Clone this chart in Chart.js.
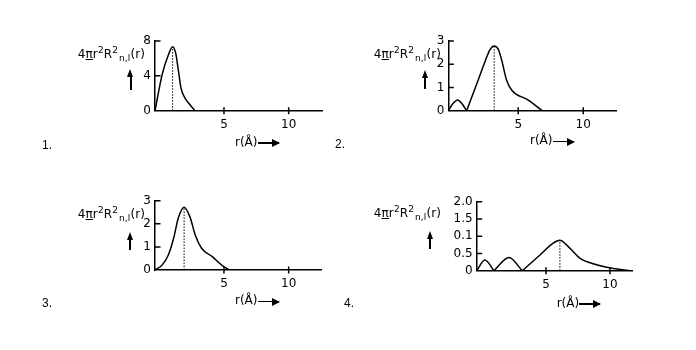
<!DOCTYPE html>
<html><head><meta charset="utf-8">
<script src="https://cdn.jsdelivr.net/npm/chart.js@4.4.0/dist/chart.umd.min.js"></script>
<style>
body{margin:0;background:#fff;}
#wrap{position:relative;width:696px;height:350px;overflow:hidden;background:#fff;}
canvas{position:absolute;left:0;top:0;}
.t{position:absolute;font-family:"DejaVu Sans",Verdana,sans-serif;color:#000;white-space:nowrap;}
.ylab{font-size:12px;line-height:14px;letter-spacing:0.1px;}
.ylab .sp{font-size:9px;position:relative;top:-5px;}
.ylab .sb{font-size:9px;position:relative;top:3px;margin-left:1px;}
.ylab u{text-decoration:underline;text-underline-offset:1px;}
.num{position:absolute;font-family:"Liberation Sans",Arial,sans-serif;font-size:12px;color:#000;line-height:14px;}
.up{position:absolute;width:7px;}
.up .h{width:0;height:0;border-left:3.5px solid transparent;border-right:3.5px solid transparent;border-bottom:8px solid #000;}
.up .s{width:2px;background:#000;margin-left:2.5px;}
.xlab{font-size:12px;line-height:14px;}
.ar{display:inline-block;position:relative;width:21px;height:1.5px;background:#000;vertical-align:middle;margin-left:0px;top:1px;}
.ar:after{content:"";position:absolute;right:-1px;top:-3.25px;border-top:4px solid transparent;border-bottom:4px solid transparent;border-left:8px solid #000;}
</style>
</head>
<body>
<div id="wrap">
  <canvas id="c1" width="696" height="350"></canvas>
  <canvas id="c2" width="696" height="350"></canvas>
  <canvas id="c3" width="696" height="350"></canvas>
  <canvas id="c4" width="696" height="350"></canvas>
</div>
<script>
// ---------- DATA ----------
const xTicks = [5, 10];
const xTickLabels = ['5', '10'];

// Panel 1
const r1 = [-0.33, 0.23, 0.7, 1.03, 1.27, 1.47, 1.68, 1.99, 2.37, 2.76];
const v1 = [0, 4.2, 6.4, 7.35, 6.6, 4.7, 2.6, 1.45, 0.69, 0];
const yTicks1 = [0, 4, 8];
const yLabels1 = ['0', '4', '8'];

// Panel 2
const r2 = [-0.38, 0, 0.34, 0.69, 1.03, 1.92, 2.44, 2.82, 3.15, 3.46, 3.72, 4.1, 4.49, 5.77, 6.85];
const v2 = [0, 0.32, 0.46, 0.29, 0, 1.32, 2.11, 2.62, 2.79, 2.65, 2.19, 1.32, 0.89, 0.46, 0];
const yTicks2 = [0, 1, 2, 3];
const yLabels2 = ['0', '1', '2', '3'];

// Panel 3
const r3 = [-0.33, 0.2, 0.7, 1.1, 1.47, 1.92, 2.37, 2.8, 3.27, 4.1, 4.9, 5.42];
const v3 = [0, 0.2, 0.65, 1.35, 2.25, 2.72, 2.3, 1.48, 0.94, 0.58, 0.18, 0];
const yTicks3 = [0, 1, 2, 3];
const yLabels3 = ['0', '1', '2', '3'];

// Panel 4
const r4 = [-0.41, 0.23, 0.94, 2.11, 3.15, 4.4, 5.57, 6.09, 6.6, 7.66, 8.44, 9.74, 11.56];
const v4 = [0, 0.31, 0, 0.38, 0, 0.41, 0.8, 0.88, 0.75, 0.36, 0.23, 0.1, 0];
const yTicks4 = [0, 0.5, 1, 1.5, 2];
const yLabels4 = ['0', '0.5', '0.1', '1.5', '2.0'];

const panelNames = ['1.', '2.', '3.', '4.'];
const xTitle = 'r(Å)';

// ---------- LAYOUT / STYLE ----------
const YW = 40, XH = 30;
const panels = [
  {id:'c1', r:r1, v:v1, yT:yTicks1, yL:yLabels1, area:{left:155, right:322.7, top:41, bottom:110.7}, xMin:-0.33, xMax:12.63, yMax:8,
   lab:{right:145, top:46.5}, up:{x:130.7, top:69, h:21}, xt:{left:235, top:134.5}, num:{left:42, top:138}},
  {id:'c2', r:r2, v:v2, yT:yTicks2, yL:yLabels2, area:{left:448.3, right:616, top:41, bottom:110.7}, xMin:-0.38, xMax:12.52, yMax:3,
   lab:{right:441, top:46.5}, up:{x:425, top:70, h:19}, xt:{left:530, top:133}, num:{left:335, top:137}},
  {id:'c3', r:r3, v:v3, yT:yTicks3, yL:yLabels3, area:{left:155, right:321, top:200.7, bottom:270}, xMin:-0.33, xMax:12.5, yMax:3,
   lab:{right:145, top:206.5}, up:{x:130, top:232, h:18}, xt:{left:235, top:293}, num:{left:42, top:296}},
  {id:'c4', r:r4, v:v4, yT:yTicks4, yL:yLabels4, area:{left:476.7, right:632, top:201.7, bottom:270.7}, xMin:-0.41, xMax:11.72, yMax:2,
   lab:{right:441, top:206}, up:{x:430, top:231, h:18}, xt:{left:556.7, top:295.7}, num:{left:344, top:296}}
];

const FONT = {family:'"DejaVu Sans", Verdana, sans-serif', size:12};

const axisTicks = {
  id:'axisTicks',
  afterDraw(chart, args, opts){
    const {ctx, chartArea:a, scales:{x, y}} = chart;
    ctx.save();
    ctx.strokeStyle = '#000';
    ctx.lineWidth = 1.5;
    ctx.beginPath();
    opts.yTicks.forEach(v => {
      if (v === 0) return;
      const py = y.getPixelForValue(v);
      ctx.moveTo(a.left, py); ctx.lineTo(a.left + 5.5, py);
    });
    opts.xTicks.forEach(v => {
      const px = x.getPixelForValue(v);
      ctx.moveTo(px, a.bottom - 3.5); ctx.lineTo(px, a.bottom + 3.5);
    });
    ctx.stroke();
    ctx.restore();
  }
};

function splitLobes(r, v){
  const segs = [];
  let start = 0;
  for (let i = 1; i < v.length - 1; i++){
    if (v[i] === 0){ segs.push([start, i]); start = i; }
  }
  segs.push([start, v.length - 1]);
  return segs.map(([a, b]) => r.slice(a, b + 1).map((rv, k) => ({x: rv, y: v[a + k]})));
}

const wrap = document.getElementById('wrap');
panels.forEach((p, pi) => {
  const A = p.area;
  let peak = 0;
  p.v.forEach((val, i) => { if (val > p.v[peak]) peak = i; });
  const datasets = splitLobes(p.r, p.v).map(seg => ({
    data: seg, borderColor:'#000', borderWidth:1.5, pointRadius:0, fill:false,
    cubicInterpolationMode:'monotone'
  }));
  datasets.push({
    data:[{x:p.r[peak], y:0}, {x:p.r[peak], y:p.v[peak]}],
    borderColor:'#000', borderWidth:1, borderDash:[1.5, 1.5], pointRadius:0, fill:false
  });
  new Chart(document.getElementById(p.id), {
    type:'line',
    data:{datasets},
    plugins:[axisTicks],
    options:{
      responsive:false, animation:false, devicePixelRatio:1, events:[],
      layout:{padding:{left:A.left - YW, top:A.top, right:696 - A.right, bottom:350 - A.bottom - XH}},
      plugins:{legend:{display:false}, tooltip:{enabled:false}, axisTicks:{yTicks:p.yT, xTicks:xTicks}},
      scales:{
        x:{
          type:'linear', min:p.xMin, max:p.xMax,
          afterFit:s => { s.height = XH; },
          afterBuildTicks:s => { s.ticks = xTicks.map(v => ({value:v})); },
          ticks:{autoSkip:false, maxRotation:0, padding:7, color:'#000', font:FONT,
                 callback:(v, i) => xTickLabels[i]},
          grid:{display:false, drawTicks:false},
          border:{display:true, color:'#000', width:1.5}
        },
        y:{
          type:'linear', min:0, max:p.yMax,
          afterFit:s => { s.width = YW; },
          afterBuildTicks:s => { s.ticks = p.yT.map(v => ({value:v})); },
          ticks:{autoSkip:false, padding:4, color:'#000', font:FONT,
                 callback:(v, i) => p.yL[i]},
          grid:{display:false, drawTicks:false},
          border:{display:true, color:'#000', width:1.5}
        }
      }
    }
  });

  const yl = document.createElement('div');
  yl.className = 't ylab';
  yl.style.right = (696 - p.lab.right) + 'px';
  yl.style.top = p.lab.top + 'px';
  yl.innerHTML = '4<u>π</u>r<span class="sp">2</span>R<span class="sp">2</span><span class="sb">n,l</span>(r)';
  wrap.appendChild(yl);

  const up = document.createElement('div');
  up.className = 'up';
  up.style.left = (p.up.x - 3.5) + 'px';
  up.style.top = p.up.top + 'px';
  up.innerHTML = '<div class="h"></div><div class="s" style="height:' + (p.up.h - 8) + 'px"></div>';
  wrap.appendChild(up);

  const xl = document.createElement('div');
  xl.className = 't xlab';
  xl.style.left = p.xt.left + 'px';
  xl.style.top = p.xt.top + 'px';
  xl.innerHTML = xTitle + '<span class="ar"></span>';
  wrap.appendChild(xl);

  const nm = document.createElement('div');
  nm.className = 'num';
  nm.style.left = p.num.left + 'px';
  nm.style.top = p.num.top + 'px';
  nm.textContent = panelNames[pi];
  wrap.appendChild(nm);
});
</script>
</body></html>
